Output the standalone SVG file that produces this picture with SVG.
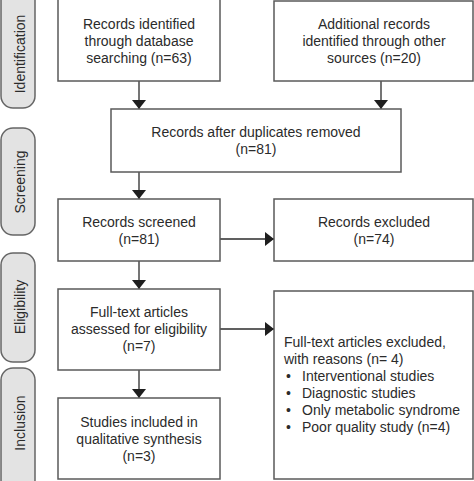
<svg xmlns="http://www.w3.org/2000/svg" width="474" height="481" viewBox="0 0 474 481">
<defs>
<style>
.box{fill:#fff;stroke:#5a5a5a;stroke-width:1.5}
.lab{fill:#e3e3e3;stroke:#666;stroke-width:1.5}
.t{font-family:"Liberation Sans",Arial,sans-serif;font-size:14px;fill:#2b2b2b}
.c{text-anchor:middle}
.edge{stroke:#2b2b2b;stroke-width:1.3;fill:none}
</style>
<marker id="ah" viewBox="0 0 9 14" refX="9" refY="7" markerWidth="9" markerHeight="14" markerUnits="userSpaceOnUse" orient="auto">
<path d="M0,0 L9,7 L0,14 Z" fill="#1e1e1e"/>
</marker>
</defs>
<rect width="474" height="481" fill="#fff"/>
<g id="stages">
<g id="stage-identification"><rect class="lab" x="1" y="-12" width="34" height="120" rx="12"/><text class="t c" transform="translate(25,54) rotate(-90)">Identification</text></g>
<g id="stage-screening"><rect class="lab" x="1" y="128" width="34" height="107" rx="12"/><text class="t c" transform="translate(25,182) rotate(-90)">Screening</text></g>
<g id="stage-eligibility"><rect class="lab" x="1" y="253" width="34" height="109" rx="12"/><text class="t c" transform="translate(25,307) rotate(-90)">Eligibility</text></g>
<g id="stage-inclusion"><rect class="lab" x="1" y="368" width="34" height="124" rx="12"/><text class="t c" transform="translate(25,423) rotate(-90)">Inclusion</text></g>
</g>
<g id="connectors">
<path class="edge" d="M139,81 V109" marker-end="url(#ah)"/>
<path class="edge" d="M381,81 V109" marker-end="url(#ah)"/>
<path class="edge" d="M139,172 V199" marker-end="url(#ah)"/>
<path class="edge" d="M220,239 H274" marker-end="url(#ah)"/>
<path class="edge" d="M139,261 V289" marker-end="url(#ah)"/>
<path class="edge" d="M220,329 H274" marker-end="url(#ah)"/>
<path class="edge" d="M139,370 V398" marker-end="url(#ah)"/>
</g>
<g id="n1"><rect class="box" x="58" y="-2" width="162" height="83"/>
<text class="t c" x="139" y="29">Records identified</text>
<text class="t c" x="139" y="46">through database</text>
<text class="t c" x="139" y="63">searching (n=63)</text></g>
<g id="n2"><rect class="box" x="274" y="1" width="199" height="80"/>
<text class="t c" x="374" y="29">Additional records</text>
<text class="t c" x="374" y="46">identified through other</text>
<text class="t c" x="374" y="63">sources (n=20)</text></g>
<g id="n3"><rect class="box" x="111" y="109" width="290" height="63"/>
<text class="t c" x="256" y="137">Records after duplicates removed</text>
<text class="t c" x="256" y="154">(n=81)</text></g>
<g id="n4"><rect class="box" x="58" y="199" width="162" height="62"/>
<text class="t c" x="139" y="227">Records screened</text>
<text class="t c" x="139" y="244">(n=81)</text></g>
<g id="n5"><rect class="box" x="274" y="199" width="199" height="62"/>
<text class="t c" x="374" y="227">Records excluded</text>
<text class="t c" x="374" y="244">(n=74)</text></g>
<g id="n6"><rect class="box" x="58" y="289" width="162" height="81"/>
<text class="t c" x="139" y="317">Full-text articles</text>
<text class="t c" x="139" y="334">assessed for eligibility</text>
<text class="t c" x="139" y="351">(n=7)</text></g>
<g id="n7"><rect class="box" x="274" y="291" width="199" height="188"/>
<text class="t" x="284" y="347">Full-text articles excluded,</text>
<text class="t" x="284" y="364">with reasons (n= 4)</text>
<text class="t" x="286" y="381">•</text><text class="t" x="302" y="381">Interventional studies</text>
<text class="t" x="286" y="398">•</text><text class="t" x="302" y="398">Diagnostic studies</text>
<text class="t" x="286" y="415">•</text><text class="t" x="302" y="415">Only metabolic syndrome</text>
<text class="t" x="286" y="432">•</text><text class="t" x="302" y="432">Poor quality study (n=4)</text></g>
<g id="n8"><rect class="box" x="58" y="398" width="162" height="81"/>
<text class="t c" x="139" y="427">Studies included in</text>
<text class="t c" x="139" y="444">qualitative synthesis</text>
<text class="t c" x="139" y="461">(n=3)</text></g>
</svg>
